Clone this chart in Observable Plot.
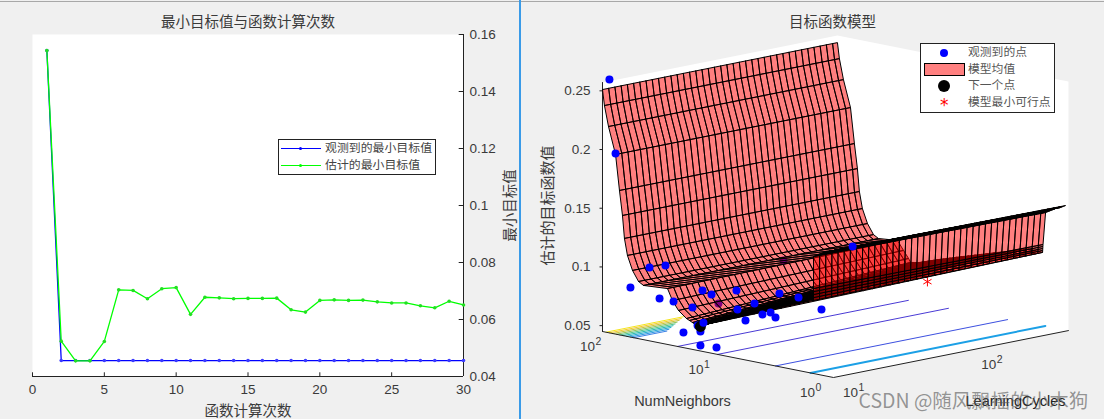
<!DOCTYPE html>
<html><head><meta charset="utf-8">
<style>
html,body{margin:0;padding:0;background:#f0f0f0;overflow:hidden}
#page{position:relative;width:1104px;height:419px;overflow:hidden;font-family:"Liberation Sans","Noto Sans CJK SC",sans-serif;color:#333}
#page svg{position:absolute;top:0;background:transparent}
.box{position:absolute;background:#fff;border:1px solid #222;box-sizing:border-box}
.row{position:absolute;white-space:nowrap;line-height:1;transform:translateY(-50%)}
.sep{position:absolute;background:#3a9be8}
.topline{position:absolute;left:0;right:0;top:1px;height:1px;background:#a8a8a8}
</style>
<script src="https://cdn.jsdelivr.net/npm/d3@7"></script>
<script src="https://cdn.jsdelivr.net/npm/@observablehq/plot@0.6"></script>
</head><body><div id="page"></div>
<script>
// ---------- left panel data
const evalCount = [1,2,3,4,5,6,7,8,9,10,11,12,13,14,15,16,17,18,19,20,21,22,23,24,25,26,27,28,29,30];
const observedMin = [.1544,.0456,.0456,.0456,.0456,.0456,.0456,.0456,.0456,.0456,.0456,.0456,.0456,.0456,.0456,.0456,.0456,.0456,.0456,.0456,.0456,.0456,.0456,.0456,.0456,.0456,.0456,.0456,.0456,.0456];
const estimatedMin = [.1544,.0524,.0455,.0455,.0523,.0704,.0702,.0673,.0708,.0712,.0618,.0678,.0676,.0673,.0674,.0674,.0675,.0634,.0626,.0667,.0669,.0667,.0668,.0662,.0658,.0658,.0648,.0641,.0664,.0651];
const xTicksLeft = [0,5,10,15,20,25,30];
const yTicksLeft = [.04,.06,.08,.1,.12,.14,.16];
const titleLeft = "最小目标值与函数计算次数", xLabelLeft = "函数计算次数", yLabelLeft = "最小目标值";
const seriesNames = ["观测到的最小目标值","估计的最小目标值"];

// ---------- right panel data (log10 NumNeighbors, log10 LearningCycles, objective)
const titleRight = "目标函数模型", zLabel = "估计的目标函数值";
const zTicks = [.05,.1,.15,.2,.25];
const zFloor = .045, zCeil = .2571;
const logNMax = 2, logCMin = 1, logCMax = 2.7;
const legendNames = ["观测到的点","模型均值","下一个点","模型最小可行点"];

const cycleGrid = [1,1.045,1.09,1.135,1.18,1.225,1.27,1.315,1.36,1.405,1.45,1.495,1.54,1.585,1.63,1.675,1.72,1.765,1.81,1.855,1.9,1.945,1.99,2.035,2.08,2.125,2.17,2.215,2.26,2.305,2.35,2.395,2.44,2.485,2.53,2.575,2.62,2.665,2.7];

// main sheet: grid rows of the surface, from the far wall to the valley
const mainNLeft  = [2,1.983,1.948,1.887,1.853,1.827,1.81,1.784,1.74,1.688,1.645,1.437,1.394,1.342,1.273,1.247,1.221,1.208,1.195,1.186,1.177,1.173,1.169,1.165,1.16,1.156,1.152,1.152,1.152,1.152,1.152,1.152,1.152,1.152,1.152,1.152,1.152];
const mainNRight = [2,1.983,1.948,1.887,1.853,1.827,1.81,1.784,1.74,1.688,1.645,1.48,1.428,1.384,1.367,1.332,1.298,1.254,1.211,1.168,1.125,1.073,1.021,.969,.917,.86,.804,.748,.692,.631,.571,.514,.458,.401,.345,.285,.224];
const mainZLeft  = [.2511,.2378,.2206,.198,.168,.1472,.128,.114,.1021,.0937,.0912,.0926,.0832,.0758,.0703,.0691,.0679,.0675,.0671,.0671,.0671,.067,.0668,.0667,.0666,.0666,.0667,.0667,.0667,.0667,.0667,.0667,.0667,.0667,.0667,.0667,.0667];
const mainZRight = [.2511,.2378,.2206,.198,.168,.1472,.128,.114,.1021,.0937,.0912,.0928,.0853,.0793,.0763,.0769,.0775,.079,.0805,.082,.0835,.0851,.0868,.0885,.0901,.0918,.0936,.0953,.0971,.099,.1008,.1025,.1043,.106,.1078,.1075,.1072];

// front sheet: the cliff that rises towards NumNeighbors = 1
const cliffNLeft  = [.173,.173,.173,.173,.173, .173,.151,.13,.108,.087,.065,.043,.022,0];
const cliffNRight = [.224,.223,.222,.221,.22, .198,.176,.155,.133,.112,.09,.068,.047,.025];
const cliffZLeft  = [.1072,.1097,.1123,.1148,.1174, .1447,.1459,.1472,.1485,.1498,.1506,.1515,.1523,.1532];
const cliffZRight = [.1072,.1089,.1106,.1123,.114, .1417,.143,.1442,.1455,.1468,.1476,.1485,.1498,.151];

// contours on the floor
const contourN = [1.35,1.004,.502,.2, 1.97,1.94,1.91,1.88,1.85,1.82,1.79,1.76,1.73];
const contourCEnd = [2.67,2.671,2.679,2.7, 1.56,1.52,1.48,1.44,1.4,1.36,1.32,1.28,1.24];
const contourColor = ["#4a3bd5","#4a3bd5","#3c50e0","#1ca0e6","#f5e61c","#f2c92e","#c9c13a","#8cc25a","#4fc28a","#22b8ab","#1ea8d0","#2a94e0","#3a80e6"];
const contourWidth = [1,1,1,2,1,1,1,1,1,1,1,1,1];

// observed points
const pointN = [1.94,1.887,1.758,1.593,1.455,1.506,1.385,1.221,1.299,1.152,1.013,1.177,1.152,1.134,1.056,.84,.831,.762,.684,.615,.545,.502,.468,.303,.104,.074];
const pointC = [1,1,1,1,1,1,1,1,1,1,1,1,1,1,1,1,1,1,1,1,1,1,1,1,1,1.2];
const pointZ = [.2608,.1988,.0872,.1075,.1119,.0828,.0826,.0807,.0579,.0497,.0507,.0662,.0616,.0969,.095,.1027,.0867,.0786,.0947,.0867,.0897,.0863,.1074,.1072,.1009,.1505];
const behindN = [.996,.433], behindC = [1,1], behindZ = [.0885,.1361];
const nextN = [1.152], nextC = [1], nextZ = [.0659];
const frontN = [1.126], frontC = [1], frontZ = [.0695];
const bestN = [.144], bestC = [1.8], bestZ = [.105];

const nTicks = [[2,"2"],[1,"1"],[0,"0"]];
const cTicks = [[1,"1"],[2,"2"]];
const xName = "LearningCycles", yName = "NumNeighbors", watermark = "CSDN @随风飘摇的小木狗";

const FONT = '"Liberation Sans","Noto Sans CJK SC",sans-serif';
const INK = "#3a3a3a";
const page = document.getElementById("page");

// ---------- left chart
const obs = evalCount.map((x,i)=>({x,y:observedMin[i]}));
const est = evalCount.map((x,i)=>({x,y:estimatedMin[i]}));
const left = Plot.plot({
  width:520,height:419,marginLeft:32,marginRight:57,marginTop:34,marginBottom:43,
  style:{background:"transparent",fontFamily:FONT,overflow:"visible"},
  x:{domain:[0,30]},y:{domain:[.04,.16]},
  marks:[
    Plot.frame({fill:"white",stroke:null}),
    Plot.axisX({ticks:xTicksLeft,tickSize:0,tickPadding:8,label:null,fontSize:13.5,color:INK,tickFormat:d=>String(d)}),
    Plot.axisY({anchor:"right",ticks:yTicksLeft,tickSize:0,tickPadding:6,label:null,fontSize:13.5,color:INK,tickFormat:d=>String(+d.toFixed(2))}),
    Plot.ruleX(xTicksLeft,{x:d=>d,y1:.04,y2:.0413,stroke:"#222"}),
    Plot.ruleY(yTicksLeft,{y:d=>d,x1:29.7,x2:30,stroke:"#222"}),
    Plot.ruleY([.04],{stroke:"#222"}),
    Plot.ruleX([30],{stroke:"#222"}),
    Plot.line(obs,{x:"x",y:"y",stroke:"#0000ff",strokeWidth:1.3}),
    Plot.dot(obs,{x:"x",y:"y",r:1.8,fill:"#3a3aff",stroke:null}),
    Plot.line(est,{x:"x",y:"y",stroke:"#00ff00",strokeWidth:1.3}),
    Plot.dot(est,{x:"x",y:"y",r:1.8,fill:"#22e022",stroke:null}),
    Plot.text([titleLeft],{text:d=>d,frameAnchor:"top",lineAnchor:"middle",dy:-12,fontSize:14.5,fill:INK}),
    Plot.text([xLabelLeft],{text:d=>d,frameAnchor:"bottom",lineAnchor:"middle",dy:35,fontSize:14.5,fill:INK}),
    Plot.text([yLabelLeft],{text:d=>d,frameAnchor:"right",textAnchor:"middle",dx:47,rotate:-90,fontSize:14.5,fill:INK})
  ]
});
left.style.left="0px";
page.appendChild(left);

// ---------- the 3-D view: an axonometric projection of (logN, logC, z)
const view = {ox:833,oy:377,nx:-115.5,ny:-23,cx:138.2,cy:-27.6,zy:-1174};
const projX = (n,c)=>view.ox+view.nx*n+view.cx*(c-logCMin);
const projY = (n,c,z)=>view.oy+view.ny*n+view.cy*(c-logCMin)+view.zy*(z-zFloor);
const P = (n,c,z)=>({px:projX(n,c),py:projY(n,c,z)});

function cells(nL,nR,zL,zR,prefix){
  const out=[];
  const at=(r,j)=>{const t=(cycleGrid[j]-logCMin)/(logCMax-logCMin);
    return P(nL[r]+(nR[r]-nL[r])*t,cycleGrid[j],zL[r]+(zR[r]-zL[r])*t);};
  for(let r=0;r<nL.length-1;r++)for(let j=0;j<cycleGrid.length-1;j++){
    const id=prefix+"-"+r+"-"+j;
    [at(r,j),at(r,j+1),at(r+1,j+1),at(r+1,j),at(r,j)].forEach(p=>out.push({...p,id}));
  }
  return out;
}
const mainCells = cells(mainNLeft,mainNRight,mainZLeft,mainZRight,"m");
const cliffCells = cells(cliffNLeft,cliffNRight,cliffZLeft,cliffZRight,"c");

const pane = [P(logNMax,logCMin,zFloor),P(logNMax,logCMin,zCeil),P(logNMax,logCMax,zCeil),P(0,logCMax,zCeil),P(0,logCMax,zFloor),P(0,logCMin,zFloor),P(logNMax,logCMin,zFloor)];
const floorEdges = [P(logNMax,logCMin,zFloor),P(0,logCMin,zFloor),P(0,logCMax,zFloor)];
const zAxis = [P(logNMax,logCMin,zFloor),P(logNMax,logCMin,zCeil)];
const contours = contourN.flatMap((n,i)=>[{...P(n,logCMin,zFloor),i},{...P(n,contourCEnd[i],zFloor),i}]);
const pts = (ns,cs,zs)=>ns.map((n,i)=>P(n,cs[i],zs[i]));
const zTickData = zTicks.map(z=>({...P(logNMax,logCMin,z),z}));
const nLabelShift = {2:-15,1:-22,0:-26};
const nTickData = nTicks.map(([n,e])=>({...P(n,logCMin,zFloor),e,shift:nLabelShift[n]}));
const cTickData = cTicks.map(([c,e])=>({...P(0,c,zFloor),e,shift:17}));
const expoData = [...nTickData,...cTickData];

const right = Plot.plot({
  width:584,height:419,marginLeft:0,marginRight:0,marginTop:0,marginBottom:0,
  style:{background:"transparent",fontFamily:FONT,overflow:"visible"},
  x:{domain:[520,1104],range:[0,584],axis:null},
  y:{domain:[0,419],range:[0,419],axis:null},
  marks:[
    Plot.line(pane,{x:"px",y:"py",fill:"white",stroke:null}),
    Plot.line(contours,{x:"px",y:"py",z:"i",stroke:d=>contourColor[d.i],strokeWidth:d=>contourWidth[d.i]}),
    Plot.line(floorEdges,{x:"px",y:"py",stroke:"#222",strokeWidth:1}),
    Plot.line(zAxis,{x:"px",y:"py",stroke:"#222",strokeWidth:1}),
    Plot.link(zTickData,{x1:"px",y1:"py",x2:d=>d.px-3,y2:"py",stroke:"#222"}),
    Plot.dot(pts(behindN,behindC,behindZ),{x:"px",y:"py",r:4,fill:"#0000ff",stroke:null}),
    Plot.dot(pts(bestN,bestC,bestZ),{x:"px",y:"py",r:4.5,symbol:"asterisk",stroke:"#ff0000",strokeWidth:1}),
    Plot.line(mainCells,{x:"px",y:"py",z:"id",fill:"#ff0000",fillOpacity:.5,stroke:"#000",strokeWidth:1}),
    Plot.line(cliffCells,{x:"px",y:"py",z:"id",fill:"#ff0000",fillOpacity:.5,stroke:"#000",strokeWidth:1}),
    Plot.dot(pts(pointN,pointC,pointZ),{x:"px",y:"py",r:4,fill:"#0000ff",stroke:null}),
    Plot.dot(pts(nextN,nextC,nextZ),{x:"px",y:"py",r:5.5,fill:"#000",stroke:null}),
    Plot.dot(pts(frontN,frontC,frontZ),{x:"px",y:"py",r:4,fill:"#0000ff",stroke:null}),
    Plot.text(zTickData,{x:"px",y:"py",text:d=>String(d.z),textAnchor:"end",dx:-12,fontSize:13.5,fill:INK}),
    Plot.text(expoData,{x:d=>d.px+d.shift,y:"py",text:()=>"10",dy:15,fontSize:13.5,fill:INK}),
    Plot.text(expoData,{x:d=>d.px+d.shift+11,y:"py",text:"e",dy:10,fontSize:10.5,fill:INK}),
    Plot.text([titleRight],{text:d=>d,x:()=>832,y:()=>22,fontSize:14.5,fill:INK}),
    Plot.text([zLabel],{text:d=>d,x:()=>548,y:()=>205,rotate:-90,fontSize:15,fill:INK}),
    Plot.text([yName],{text:d=>d,x:()=>682,y:()=>401,fontSize:14.5,fill:INK}),
    Plot.text([xName],{text:d=>d,x:()=>1015,y:()=>401,fontSize:14.5,fill:"#222"}),
    Plot.text([watermark],{text:d=>d,x:()=>858,y:()=>401,textAnchor:"start",fontSize:19.5,fill:"#555",fillOpacity:.6,fontFamily:'"Noto Sans CJK SC",sans-serif'})
  ]
});
right.style.left="520px";
page.appendChild(right);

// ---------- chrome and legends
function add(cls,css,text){const d=document.createElement("div");d.className=cls;d.style.cssText=css;if(text!=null)d.textContent=text;page.appendChild(d);return d;}
add("topline","");
add("sep","left:519px;top:0;width:2px;height:419px");

add("box","left:278px;top:139px;width:158px;height:36px");
seriesNames.forEach((t,i)=>{
  const y=[148,165][i],c=["#0000ff","#00ff00"][i];
  add("",`position:absolute;left:281px;top:${y}px;width:40px;height:1px;background:${c}`);
  add("",`position:absolute;left:299px;top:${y-1}px;width:3px;height:3px;border-radius:50%;background:${c}`);
  add("row",`left:325px;top:${y+1}px;font-size:11.9px;color:#444`,t);
});

add("box","left:920px;top:43px;width:135px;height:70px");
legendNames.forEach((t,i)=>{
  const y=[53,70,86,103][i];
  add("row",`left:968px;top:${y}px;font-size:11.8px;color:#555`,t);
});
add("",`position:absolute;left:940px;top:49px;width:8px;height:8px;border-radius:50%;background:#0000ff`);
add("",`position:absolute;left:924px;top:63px;width:41px;height:13px;background:#ff8080;border:1px solid #000;box-sizing:border-box`);
add("",`position:absolute;left:938px;top:80px;width:12px;height:12px;border-radius:50%;background:#000`);
add("row",`left:940px;top:105px;font-size:17px;color:#ff0000;font-family:"DejaVu Sans"`,"*");
</script></body></html>
